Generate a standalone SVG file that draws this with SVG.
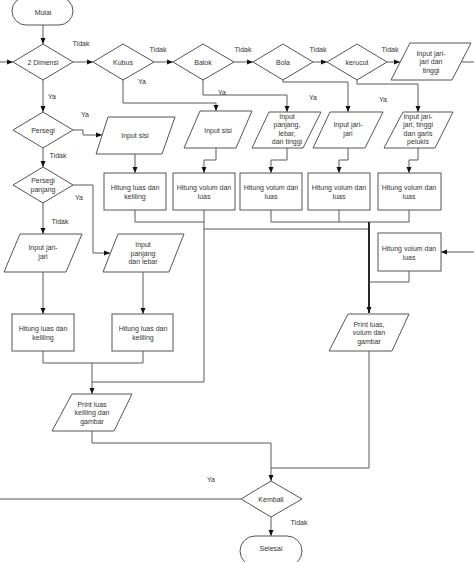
<svg xmlns="http://www.w3.org/2000/svg" width="474" height="562" viewBox="0 0 474 562">
<style>
.s{fill:#fff;stroke:#555;stroke-width:1}
.c{fill:none;stroke:#5a5a5a;stroke-width:1}
.k{fill:none;stroke:#111;stroke-width:1.8}
text{font-family:"Liberation Sans",Arial,sans-serif;font-size:7px;fill:#333;text-anchor:middle}
</style>
<defs>
<marker id="a" markerUnits="userSpaceOnUse" markerWidth="6" markerHeight="6" viewBox="0 0 6 6" refX="6" refY="3" orient="auto">
<path d="M0,0.5 L6,3 L0,5.5 Z" fill="#111"/>
</marker>
</defs>
<rect width="474" height="562" fill="#fff"/>
<g id="connectors">
<path class="c" d="M43,25 V44" marker-end="url(#a)"/>
<path class="c" d="M0,62 H13" marker-end="url(#a)"/>
<path class="c" d="M73,62 H93" marker-end="url(#a)"/>
<path class="c" d="M154,62 H173" marker-end="url(#a)"/>
<path class="c" d="M234,62 H253" marker-end="url(#a)"/>
<path class="c" d="M313,62 H327" marker-end="url(#a)"/>
<path class="c" d="M387,62 H400" marker-end="url(#a)"/>
<path class="c" d="M462,62 H474"/>
<path class="c" d="M123,80 V103 H216 V111" marker-end="url(#a)"/>
<path class="c" d="M203,80 V95 H287 V112" marker-end="url(#a)"/>
<path class="c" d="M283,80 V82 H348 V112" marker-end="url(#a)"/>
<path class="c" d="M357,80 V84 H418 V112" marker-end="url(#a)"/>
<path class="c" d="M43,80 V112" marker-end="url(#a)"/>
<path class="c" d="M73,130 H83 V135 H102" marker-end="url(#a)"/>
<path class="c" d="M43,148 V167" marker-end="url(#a)"/>
<path class="c" d="M73,185 H93 V253 H110" marker-end="url(#a)"/>
<path class="c" d="M43,203 V234" marker-end="url(#a)"/>
<path class="c" d="M135,154 V173" marker-end="url(#a)"/>
<path class="c" d="M216,148 V160 H204 V173" marker-end="url(#a)"/>
<path class="c" d="M287,148 V160 H271 V173" marker-end="url(#a)"/>
<path class="c" d="M348,148 V160 H339 V173" marker-end="url(#a)"/>
<path class="c" d="M418,148 V160 H409 V173" marker-end="url(#a)"/>
<path class="c" d="M135,210 V222 H204"/>
<path class="c" d="M204,210 V382 H92"/>
<path class="c" d="M204,229 H369"/>
<path class="c" d="M271,210 V222 H409 V210"/>
<path class="c" d="M339,210 V222"/>
<path class="k" d="M369,222 V313" marker-end="url(#a)"/>
<path class="c" d="M474,252 H441" marker-end="url(#a)"/>
<path class="c" d="M409,271 V282 H369"/>
<path class="c" d="M43,272 V314" marker-end="url(#a)"/>
<path class="c" d="M143,272 V314" marker-end="url(#a)"/>
<path class="c" d="M43,351 V363 H143 V351"/>
<path class="c" d="M92,363 V394" marker-end="url(#a)"/>
<path class="c" d="M92,431 V443 H271 V481" marker-end="url(#a)"/>
<path class="c" d="M369,351 V468 H271"/>
<path class="c" d="M241,499 H0"/>
<path class="c" d="M271,517 V536" marker-end="url(#a)"/>
</g>
<g id="labels">
<text x="81" y="45.5">Tidak</text>
<text x="158" y="51.5">Tidak</text>
<text x="243" y="51.5">Tidak</text>
<text x="318" y="51.5">Tidak</text>
<text x="390" y="51.5">Tidak</text>
<text x="142" y="83.5">Ya</text>
<text x="222" y="94.5">Ya</text>
<text x="313" y="99.5">Ya</text>
<text x="383" y="101.5">Ya</text>
<text x="52" y="98.5">Ya</text>
<text x="85" y="116.5">Ya</text>
<text x="58" y="157.5">Tidak</text>
<text x="79" y="199.5">Ya</text>
<text x="60" y="223.5">Tidak</text>
<text x="211" y="481.5">Ya</text>
<text x="299" y="524.5">Tidak</text>
</g>
<g id="mulai"><rect class="s" x="12" y="-3" width="61" height="28" rx="14"/><text x="43" y="15">Mulai</text></g>
<g id="dimensi2"><polygon class="s" points="13,62 43,44 73,62 43,80"/><text x="43" y="64.5">2 Dimensi</text></g>
<g id="kubus"><polygon class="s" points="93,62 123,44 154,62 123,80"/><text x="123" y="64.5">Kubus</text></g>
<g id="balok"><polygon class="s" points="173,62 203,44 234,62 203,80"/><text x="203" y="64.5">Balok</text></g>
<g id="bola"><polygon class="s" points="253,62 283,44 313,62 283,80"/><text x="283" y="64.5">Bola</text></g>
<g id="kerucut"><polygon class="s" points="327,62 357,44 387,62 357,80"/><text x="357" y="64.5">kerucut</text></g>
<g id="input-jj-tinggi"><polygon class="s" points="410,43 471,43 452,80 391,80"/><text x="431" y="55.5">Input jari-</text><text x="431" y="63.5">jari dan</text><text x="431" y="72.5">tinggi</text></g>
<g id="persegi"><polygon class="s" points="13,130 43,112 73,130 43,148"/><text x="43" y="132.5">Persegi</text></g>
<g id="input-sisi-1"><polygon class="s" points="108,117 175,117 162,154 96,154"/><text x="135" y="137.5">Input sisi</text></g>
<g id="input-sisi-2"><polygon class="s" points="200,111 252,111 236,148 184,148"/><text x="218" y="132.5">Input sisi</text></g>
<g id="input-plt"><polygon class="s" points="269,112 321,112 303,148 252,148"/><text x="287" y="118.5">Input</text><text x="287" y="126.5">panjang,</text><text x="287" y="135.5">lebar,</text><text x="287" y="143.5">dan tinggi</text></g>
<g id="input-jj-mid"><polygon class="s" points="330,112 383,112 365,148 313,148"/><text x="348" y="126.5">Input jari-</text><text x="348" y="135.5">jari</text></g>
<g id="input-jj-tgp"><polygon class="s" points="403,112 453,112 435,148 384,148"/><text x="418" y="118.5">Input jari-</text><text x="418" y="126.5">jari, tinggi</text><text x="418" y="135.5">dan garis</text><text x="418" y="143.5">pelukis</text></g>
<g id="persegi-panjang"><polygon class="s" points="13,185 43,167 73,185 43,203"/><text x="43" y="182.5">Persegi</text><text x="43" y="191.5">panjang</text></g>
<g id="hitung-luas-1"><rect class="s" x="104" y="173" width="62" height="37"/><text x="135" y="189.5">Hitung luas dan</text><text x="135" y="198.5">keliling</text></g>
<g id="hitung-vol-1"><rect class="s" x="173" y="173" width="62" height="37"/><text x="204" y="189.5">Hitung volum dan</text><text x="204" y="198.5">luas</text></g>
<g id="hitung-vol-2"><rect class="s" x="240" y="173" width="62" height="37"/><text x="271" y="189.5">Hitung volum dan</text><text x="271" y="198.5">luas</text></g>
<g id="hitung-vol-3"><rect class="s" x="308" y="173" width="62" height="37"/><text x="339" y="189.5">Hitung volum dan</text><text x="339" y="198.5">luas</text></g>
<g id="hitung-vol-4"><rect class="s" x="378" y="173" width="63" height="37"/><text x="409" y="189.5">Hitung volum dan</text><text x="409" y="198.5">luas</text></g>
<g id="hitung-vol-5"><rect class="s" x="378" y="233" width="63" height="38"/><text x="409" y="250.5">Hitung volum dan</text><text x="409" y="259.5">luas</text></g>
<g id="input-jj-left"><polygon class="s" points="20,234 82,234 66,272 4,272"/><text x="43" y="249.5">Input jari-</text><text x="43" y="258.5">jari</text></g>
<g id="input-pl"><polygon class="s" points="118,234 184,234 169,272 103,272"/><text x="143" y="246.5">Input</text><text x="143" y="255.5">panjang</text><text x="143" y="263.5">dan lebar</text></g>
<g id="hitung-luas-2"><rect class="s" x="12" y="314" width="62" height="37"/><text x="43" y="330.5">Hitung luas dan</text><text x="43" y="339.5">keliling</text></g>
<g id="hitung-luas-3"><rect class="s" x="112" y="314" width="61" height="37"/><text x="143" y="330.5">Hitung luas dan</text><text x="143" y="339.5">keliling</text></g>
<g id="print-volum"><polygon class="s" points="348,314 409,314 392,351 329,351"/><text x="369" y="326.5">Print luas,</text><text x="369" y="334.5">volum dan</text><text x="369" y="343.5">gambar</text></g>
<g id="print-keliling"><polygon class="s" points="72,394 132,394 114,431 52,431"/><text x="92" y="406.5">Print luas</text><text x="92" y="414.5">keliling dan</text><text x="92" y="423.5">gambar</text></g>
<g id="kembali"><polygon class="s" points="241,499 271,481 302,499 271,517"/><text x="271" y="501.5">Kembali</text></g>
<g id="selesai"><rect class="s" x="240" y="536" width="62" height="30" rx="15"/><text x="271" y="550.5">Selesai</text></g>
</svg>
